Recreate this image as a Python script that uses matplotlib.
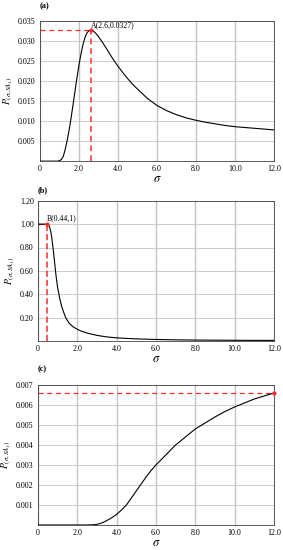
import numpy as np
import matplotlib
matplotlib.use("Agg")
import matplotlib.pyplot as plt

plt.rcParams["font.family"] = ["Liberation Serif", "DejaVu Serif"]
plt.rcParams["mathtext.fontset"] = "stix"

# ── data ────────────────────────────────────────────────────────────────────
sig_a = [0, 0.9, 1.0, 1.1, 1.2, 1.3, 1.4, 1.5, 1.6, 1.7, 1.8, 1.9, 2.0, 2.1,
         2.2, 2.3, 2.4, 2.5, 2.6, 2.7, 2.8, 2.9, 3.0, 3.2, 3.4, 3.6, 3.8,
         4.0, 4.25, 4.5, 4.75, 5.0, 5.5, 6.0, 6.5, 7.0, 7.5, 8.0, 8.5, 9.0,
         9.5, 10.0, 11.0, 12.0]
p_a = [0, 0, 0.0001, 0.0004, 0.0012, 0.0030, 0.0052, 0.0078, 0.0108, 0.0141,
       0.0175, 0.0208, 0.0239, 0.0266, 0.0289, 0.0307, 0.0319, 0.0325, 0.0327,
       0.0326, 0.0322, 0.0317, 0.0311, 0.0297, 0.0282, 0.0266, 0.0251,
       0.0237, 0.0221, 0.0206, 0.0192, 0.0180, 0.0157, 0.0139, 0.0126,
       0.0116, 0.0108, 0.0102, 0.0097, 0.0093, 0.0089, 0.0086, 0.0082, 0.0078]

sig_b = [0, 0.44, 0.5, 0.55, 0.6, 0.65, 0.7, 0.75, 0.8, 0.85, 0.9, 0.95, 1.0,
         1.1, 1.2, 1.3, 1.4, 1.5, 1.6, 1.8, 2.0, 2.2, 2.5, 3.0, 3.5, 4.0,
         5.0, 6.0, 7.0, 8.0, 10.0, 12.0]
p_b = [1.0, 1.0, 0.998, 0.99, 0.97, 0.94, 0.89, 0.82, 0.75, 0.67, 0.59,
       0.52, 0.46, 0.37, 0.30, 0.25, 0.205, 0.175, 0.15, 0.12, 0.10, 0.085,
       0.068, 0.048, 0.035, 0.027, 0.018, 0.013, 0.010, 0.008, 0.006, 0.005]

sig_c = [0, 2.5, 2.8, 3.0, 3.25, 3.5, 3.75, 4.0, 4.25, 4.5, 4.75, 5.0, 5.25,
         5.5, 5.75, 6.0, 6.5, 7.0, 7.5, 8.0, 8.5, 9.0, 9.5, 10.0, 10.5,
         11.0, 11.5, 12.0]
p_c = [0, 0, 0.00001, 0.00003, 0.0001, 0.00022, 0.00036, 0.00053, 0.00075,
       0.0010, 0.00135, 0.0017, 0.00205, 0.0024, 0.00272, 0.0030, 0.0035,
       0.0040, 0.0044, 0.0048, 0.0051, 0.0054, 0.00567, 0.0059, 0.0061,
       0.0063, 0.00645, 0.0066]

x_ticks = [0, 2, 4, 6, 8, 10, 12]
x_labels = ["0", "2.0", "4.0", "6.0", "8.0", "10.0", "12.0"]

ticks_a = [0.005, 0.010, 0.015, 0.020, 0.025, 0.030, 0.035]
ticks_b = [0.20, 0.40, 0.60, 0.80, 1.00, 1.20]
ticks_c = [0.001, 0.002, 0.003, 0.004, 0.005, 0.006, 0.007]

peak_a = (2.6, 0.0327)
point_b = (0.44, 1.0)
end_c = (12.0, 0.0066)

YLABEL = r"$P_{(\sigma,SA_1)}$"
GRID = "#c4c4c4"
RED = "#ff2a2a"


def _style(ax, yticks, fmt, ymax):
    ax.set_xlim(0, 12)
    ax.set_ylim(0, ymax)
    ax.set_xticks(x_ticks)
    ax.set_xticklabels(x_labels)
    ax.set_yticks(yticks)
    ax.set_yticklabels([fmt.format(v) for v in yticks])
    ax.tick_params(length=0, labelsize=5.8, pad=3)
    ax.grid(True, axis="x", color=GRID, lw=1.0)
    ax.grid(True, axis="y", color=GRID, lw=0.6)
    ax.set_axisbelow(True)
    for s in ax.spines.values():
        s.set_color("#404040")
        s.set_linewidth(0.6)
    ax.set_xlabel(r"$\sigma$", fontsize=9, labelpad=0)
    ax.set_ylabel(YLABEL, fontsize=7, labelpad=2)


fig = plt.figure(figsize=(2.83, 5.5), dpi=100)

# ── (a) ──────────────────────────────────────────────────────────────────────
ax = fig.add_axes([0.141, 0.707, 0.827, 0.255])
_style(ax, ticks_a, "{:.3f}", 0.035)
ax.plot(sig_a, p_a, color="black", lw=0.8, zorder=3)
ax.plot([0, peak_a[0]], [peak_a[1], peak_a[1]], color=RED, lw=0.9,
        ls=(0, (4, 3)), zorder=2)
ax.plot([peak_a[0], peak_a[0]], [0, peak_a[1]], color="#ff5a5a", lw=1.4,
        ls=(0, (3, 2)), zorder=2)
ax.plot(*peak_a, "o", color=RED, ms=2, zorder=4)
ax.text(peak_a[0] + 0.03, peak_a[1] + 0.0002, "A(2.6,0.0327)", fontsize=5.6,
        va="bottom", ha="left")
fig.text(0.141, 0.988, "(a)", fontsize=6, fontweight="bold", va="center")

# ── (b) ──────────────────────────────────────────────────────────────────────
ax = fig.add_axes([0.134, 0.38, 0.834, 0.255])
_style(ax, ticks_b, "{:.2f}", 1.2)
ax.plot(sig_b, p_b, color="black", lw=0.8, zorder=3)
ax.plot([0, point_b[0]], [point_b[1], point_b[1]], color=RED, lw=0.9,
        ls=(0, (4, 3)), zorder=2)
ax.plot([point_b[0], point_b[0]], [0, point_b[1]], color=RED, lw=1.1,
        ls=(0, (4, 2)), zorder=2)
ax.plot(*point_b, "o", color=RED, ms=2, zorder=4)
ax.text(point_b[0] + 0.02, point_b[1] + 0.015, "B(0.44,1)", fontsize=5.6,
        va="bottom", ha="left")
fig.text(0.134, 0.655, "(b)", fontsize=6, fontweight="bold", va="center")

# ── (c) ──────────────────────────────────────────────────────────────────────
ax = fig.add_axes([0.134, 0.0455, 0.834, 0.2545])
_style(ax, ticks_c, "{:.3f}", 0.007)
ax.plot(sig_c, p_c, color="black", lw=0.8, zorder=3)
ax.plot([0, end_c[0]], [end_c[1], end_c[1]], color=RED, lw=0.9,
        ls=(0, (4, 3)), zorder=2)
ax.plot(*end_c, "o", color=RED, ms=2, zorder=4, clip_on=False)
fig.text(0.134, 0.329, "(c)", fontsize=6, fontweight="bold", va="center")

fig.savefig("out.png", dpi=100)
plt.close(fig)
